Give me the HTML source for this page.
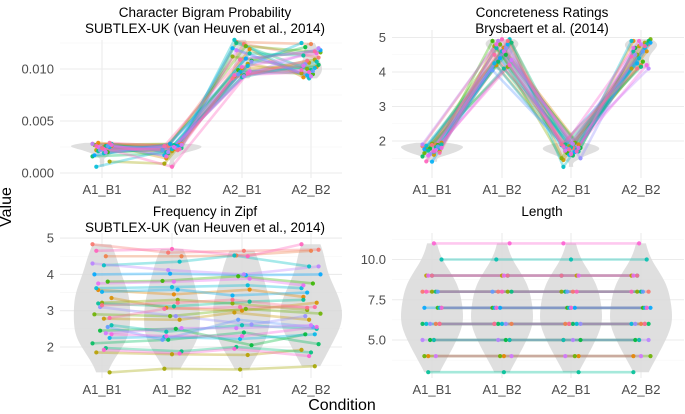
<!DOCTYPE html>
<html><head><meta charset="utf-8"><style>
html,body{margin:0;padding:0;background:#fff;}
svg{display:block;font-family:"Liberation Sans",sans-serif;}
</style></head><body>
<svg id="chart" width="685" height="414" viewBox="0 0 685 414">
<text x="11" y="207" font-size="16" fill="#000" text-anchor="middle" transform="rotate(-90 11 207)">Value</text>
<text x="342" y="410" font-size="16" fill="#000" text-anchor="middle">Condition</text>
</svg>
<script>
const categories = ["A1_B1","A1_B2","A2_B1","A2_B2"];
// Character bigram probability
const bigramA1B1 = [0.0028,0.0027,0.0029,0.0026,0.0025,0.0022,0.0011,0.0024,0.0027,0.0020,0.0023,0.0016,0.0026,0.0021,0.0028,0.0019,0.0006,0.0025,0.0024,0.0017,0.0026,0.0022,0.0028,0.0020,0.0025,0.0027,0.0023,0.0026,0.0029,0.0024];
const bigramA1B2 = [0.0026,0.0028,0.0023,0.0014,0.0027,0.0021,0.0009,0.0025,0.0028,0.0022,0.0026,0.0019,0.0024,0.0027,0.0020,0.0025,0.0023,0.0017,0.0026,0.0028,0.0022,0.0024,0.0020,0.0027,0.0025,0.0016,0.0023,0.0006,0.0026,0.0022];
const bigramA2B1 = [0.0124,0.0126,0.0119,0.0101,0.0093,0.0105,0.0096,0.0112,0.0122,0.0099,0.0108,0.0094,0.0125,0.0115,0.0092,0.0128,0.0103,0.0097,0.0120,0.0110,0.0095,0.0107,0.0093,0.0118,0.0098,0.0102,0.0094,0.0096,0.0109,0.0091];
const bigramA2B2 = [0.0111,0.0124,0.0092,0.0102,0.0106,0.0096,0.0109,0.0100,0.0116,0.0095,0.0121,0.0104,0.0099,0.0113,0.0107,0.0091,0.0125,0.0101,0.0094,0.0118,0.0098,0.0105,0.0120,0.0093,0.0103,0.0115,0.0097,0.0099,0.0117,0.0108];
const bigramTicks = [0, 0.005, 0.010];
const bigramTickLabels = ["0.000","0.005","0.010"];
// Concreteness
const concA1B1 = [1.85,1.9,1.75,1.95,1.6,1.8,1.7,1.92,1.65,1.88,1.78,1.55,1.82,1.72,1.9,1.68,1.86,1.8,1.4,1.76,1.84,1.62,1.9,1.74,1.58,1.8,1.7,1.41,1.66,1.88];
const concA1B2 = [4.9,4.85,4.7,4.2,4.9,4.6,4.75,4.15,4.8,4.9,4.5,4.3,4.85,4.1,4.7,4.95,4.6,4.25,4.8,4.4,4.05,4.7,4.9,4.35,4.6,4.8,4.2,4.95,4.5,4.9];
const concA2B1 = [1.8,1.7,1.9,1.6,1.45,1.75,1.85,1.5,1.95,1.65,1.8,1.58,1.9,1.7,1.82,1.25,1.75,1.6,1.88,1.68,1.78,1.5,1.92,1.72,1.8,1.62,1.85,1.7,1.76,1.9];
const concA2B2 = [4.8,4.2,4.9,4.6,4.75,4.1,4.85,4.5,4.95,4.3,4.7,4.9,4.15,4.6,4.8,4.4,4.9,4.7,4.25,4.85,4.6,4.5,4.1,4.8,4.7,4.2,4.9,4.45,4.75,4.1];
const concTicks = [2,3,4,5];
const concTickLabels = ["2","3","4","5"];
// Zipf frequency
const zipfA1B1 = [4.83,4.5,3.57,3.35,2.78,1.85,1.3,3.22,2.9,3.8,2.45,2.1,1.97,3.2,2.6,4.25,3.62,2.25,3.52,4.0,2.55,3.1,4.3,2.38,3.75,2.35,1.92,4.65,2.8,3.15];
const zipfA1B2 = [4.6,4.5,3.45,3.08,2.75,1.8,1.4,3.3,2.85,3.82,2.5,2.2,1.88,3.12,2.42,4.35,3.65,2.28,3.58,4.02,2.2,2.85,4.12,2.52,3.8,2.3,1.82,4.7,3.05,3.22];
const zipfA2B1 = [4.65,4.52,3.58,3.0,2.95,1.78,1.38,3.2,3.05,3.95,2.05,2.4,2.0,3.25,2.6,4.52,3.7,2.22,3.42,3.98,2.75,2.62,4.0,2.52,3.88,2.3,1.95,4.5,3.1,3.3];
const zipfA2B2 = [4.68,4.65,3.38,3.22,2.75,1.92,1.47,3.02,2.92,3.75,2.35,2.08,1.85,3.3,2.5,4.22,3.62,2.35,3.5,4.0,2.55,2.85,4.22,2.6,3.7,2.55,1.75,4.83,3.1,3.08];
const zipfTicks = [2,3,4,5];
const zipfTickLabels = ["2","3","4","5"];
// Length
const lenA1B1 = [8,6,4,7,5,9,6,8,4,7,5,6,8,3,10,5,6,7,9,7,8,6,5,4,9,7,11,8,6,9];
const lenA1B2 = [8,6,4,7,5,9,6,8,4,7,5,6,8,3,10,5,6,7,9,7,8,6,5,4,9,7,11,8,6,9];
const lenA2B1 = [8,6,4,7,5,9,6,8,4,7,5,6,8,3,10,5,6,7,9,7,8,6,5,4,9,7,11,8,6,9];
const lenA2B2 = [8,6,4,7,5,9,6,8,4,7,5,6,8,3,10,5,6,7,9,7,8,6,5,4,9,7,11,8,6,9];
const lenTicks = [5,7.5,10];
const lenTickLabels = ["5.0","7.5","10.0"];

const NS = "http://www.w3.org/2000/svg";
const svg = document.getElementById('chart');
function mk(tag, attrs, parent){const e=document.createElementNS(NS,tag);for(const k in attrs)e.setAttribute(k,attrs[k]);(parent||svg).appendChild(e);return e;}

function hcl(h,c,l){
  const hr=h*Math.PI/180,u=c*Math.cos(hr),v=c*Math.sin(hr);
  const Y=Math.pow((l+16)/116,3);
  const un=0.1978,vn=0.4683;
  const up=u/(13*l)+un,vp=v/(13*l)+vn;
  const X=Y*9*up/(4*vp),Z=Y*(12-3*up-20*vp)/(4*vp);
  let r=3.2406*X-1.5372*Y-0.4986*Z,g=-0.9689*X+1.8758*Y+0.0415*Z,b=0.0557*X-0.2040*Y+1.0570*Z;
  const gm=t=>{t=t<=0.0031308?12.92*t:1.055*Math.pow(t,1/2.4)-0.055;return Math.round(Math.max(0,Math.min(1,t))*255);};
  return `rgb(${gm(r)},${gm(g)},${gm(b)})`;
}
function kde(vals){
  const n=vals.length,m=vals.reduce((a,b)=>a+b,0)/n;
  const sd=Math.sqrt(vals.reduce((a,b)=>a+(b-m)*(b-m),0)/(n-1));
  const s=[...vals].sort((a,b)=>a-b);
  const q=p=>{const i=(n-1)*p,lo=Math.floor(i);return s[lo]+(s[Math.min(lo+1,n-1)]-s[lo])*(i-lo);};
  const iqr=(q(0.75)-q(0.25))/1.34;
  const bw=0.9*Math.min(sd,iqr>0?iqr:sd)*Math.pow(n,-0.2);
  const pts=[];
  for(let k=0;k<=60;k++){const x=s[0]+(s[n-1]-s[0])*k/60;let d=0;for(const v of vals)d+=Math.exp(-0.5*((x-v)/bw)**2)/(bw*Math.sqrt(2*Math.PI)*n);pts.push([x,d]);}
  return pts;
}

function panel(cfg){
  const g=mk('g',{},svg);
  
  
  const y=v=>cfg.y0-(v-cfg.v0)*cfg.k;
  const step=cfg.ticks[1]-cfg.ticks[0];
  for(let t=cfg.ticks[0]-step/2;t<=cfg.ticks[cfg.ticks.length-1]+step/2+1e-9;t+=step/2){
    const yy=y(t); if(yy<cfg.top-1||yy>cfg.bottom+1)continue;
    const major=cfg.ticks.some(tt=>Math.abs(tt-t)<1e-9);
    const l=mk('line',{x1:cfg.left,x2:cfg.right,y1:yy,y2:yy,stroke:major?'#ebebeb':'#f5f5f5','stroke-width':major?1.1:0.6},g);
    
    
  }
  cfg.cx.forEach(x=>{const l=mk('line',{x1:x,x2:x,y1:cfg.top,y2:cfg.bottom,stroke:'#ebebeb','stroke-width':1.1},g);
    
    });
  cfg.ticks.forEach((t,i)=>{const tx=mk('text',{x:cfg.left-6,y:y(t)+4.5,'font-size':13,fill:'#4d4d4d','text-anchor':'end'},g);tx.textContent=cfg.tickLabels[i];
    
    });
  categories.forEach((c,i)=>{const tx=mk('text',{x:cfg.cx[i],y:cfg.bottom+16,'font-size':13,fill:'#4d4d4d','text-anchor':'middle'},g);tx.textContent=c;
    
    });
  cfg.title.forEach((t,i)=>{const tx=mk('text',{x:(cfg.left+cfg.right)/2+4,y:cfg.titleY+i*16,'font-size':13.5,fill:'#000','text-anchor':'middle'},g);tx.textContent=t;
    
    });
  // violins (area-scaled across the panel)
  const dens=cfg.series.map(v=>kde(v));
  const gmax=Math.max(...dens.map(d=>Math.max(...d.map(p=>p[1]))));
  dens.forEach((d,ci)=>{
    const hw=31,cx=cfg.cx[ci];
    let path='M'+d.map(p=>`${cx+p[1]/gmax*hw},${y(p[0])}`).join('L');
    path+='L'+d.slice().reverse().map(p=>`${cx-p[1]/gmax*hw},${y(p[0])}`).join('L')+'Z';
    const v=mk('path',{d:path,fill:'#d9d9d9','fill-opacity':0.85},g);
    
    
  });
  const n=cfg.series[0].length;
  const jit=(i,ci)=>(((i*7+ci*3)%11)-5)*1.9;
  for(let i=0;i<n;i++){
    const col=hcl(15+360*i/n,100,65);
    const pts=cfg.series.map((s,ci)=>[cfg.cx[ci]+jit(i,ci),y(s[i])]);
    const pl=mk('polyline',{points:pts.map(p=>p.join(',')).join(' '),fill:'none',stroke:col,'stroke-width':2.6,'stroke-opacity':0.35},g);
    
    
  }
  for(let i=0;i<n;i++){
    const col=hcl(15+360*i/n,100,65);
    cfg.series.forEach((s,ci)=>{
      const c=mk('circle',{cx:cfg.cx[ci]+jit(i,ci),cy:y(s[i]),r:2.1,fill:col,'fill-opacity':0.9},g);
      
      
    });
  }
}
panel({name:'bigram-panel',title:['Character Bigram Probability','SUBTLEX-UK (van Heuven et al., 2014)'],titleY:17,
  series:[bigramA1B1,bigramA1B2,bigramA2B1,bigramA2B2],ticks:bigramTicks,tickLabels:bigramTickLabels,
  cx:[102,172,242,311],left:60,right:342,top:40,bottom:178,y0:173,v0:0,k:52/0.005});
panel({name:'concreteness-panel',title:['Concreteness Ratings','Brysbaert et al. (2014)'],titleY:17,
  series:[concA1B1,concA1B2,concA2B1,concA2B2],ticks:concTicks,tickLabels:concTickLabels,
  cx:[432,502,571,641],left:392,right:684,top:30,bottom:178,y0:141,v0:2,k:34.5});
panel({name:'zipf-panel',title:['Frequency in Zipf','SUBTLEX-UK (van Heuven et al., 2014)'],titleY:216,
  series:[zipfA1B1,zipfA1B2,zipfA2B1,zipfA2B2],ticks:zipfTicks,tickLabels:zipfTickLabels,
  cx:[102,172,242,311],left:60,right:342,top:233,bottom:378,y0:347,v0:2,k:36.3});
panel({name:'length-panel',title:['Length'],titleY:216,
  series:[lenA1B1,lenA1B2,lenA2B1,lenA2B2],ticks:lenTicks,tickLabels:lenTickLabels,
  cx:[432,502,571,641],left:392,right:684,top:233,bottom:378,y0:340,v0:5,k:16.1});
</script>
</body></html>
